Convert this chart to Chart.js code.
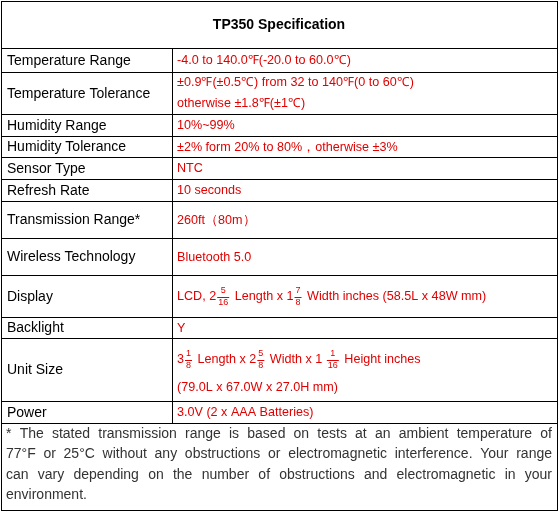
<!DOCTYPE html>
<html>
<head>
<meta charset="utf-8">
<script src="https://cdn.jsdelivr.net/npm/chart.js@4/dist/chart.umd.min.js"></script>
<style>
  body { margin: 0; background: #fff; }
  #wrap { width: 559px; height: 512px; }
</style>
</head>
<body>
<div id="wrap"><canvas id="spec"></canvas></div>
<script>
// Datos de la tabla
const title = 'TP350 Specification';
const labels = ['Temperature Range', 'Temperature Tolerance', 'Humidity Range', 'Humidity Tolerance',
  'Sensor Type', 'Refresh Rate', 'Transmission Range*', 'Wireless Technology', 'Display',
  'Backlight', 'Unit Size', 'Power'];
// cada valor: lista de líneas; cada línea: lista de trozos (texto o fracción)
const values = [
  [['-4.0 to 140.0℉(-20.0 to 60.0℃)']],
  [['±0.9℉(±0.5℃) from 32 to 140℉(0 to 60℃)'], ['otherwise ±1.8℉(±1℃)']],
  [['10%~99%']],
  [['±2% form 20% to 80%，otherwise ±3%']],
  [['NTC']],
  [['10 seconds']],
  [['260ft（80m）']],
  [['Bluetooth 5.0']],
  [['LCD, 2', { n: '5', d: '16' }, ' Length x 1', { n: '7', d: '8' }, ' Width inches (58.5L x 48W mm)']],
  [['Y']],
  [['3', { n: '1', d: '8' }, ' Length x 2', { n: '5', d: '8' }, ' Width x 1 ', { n: '1', d: '16' }, ' Height inches'],
   ['(79.0L x 67.0W x 27.0H mm)']],
  [['3.0V (2 x AAA Batteries)']]
];
const footnote = [
  '* The stated transmission range is based on tests at an ambient temperature of',
  '77°F or 25°C without any obstructions or electromagnetic interference. Your range',
  'can vary depending on the number of obstructions and electromagnetic in your',
  'environment.'
];

// Maquetación (límites de filas en unidades de la escala y)
const rowEdges = [1, 48, 72, 114, 136, 157, 179, 201, 238, 275, 317, 338, 401, 423, 510];
const lineOffsets = { 1: [10, 31], 10: [21, 49] };
const colX = [1, 172, 557];

const tablePlugin = {
  id: 'tabla',
  afterDraw(chart) {
    const { ctx, scales } = chart;
    const X = v => scales.x.getPixelForValue(v);
    const Y = v => scales.y.getPixelForValue(v);
    ctx.save();
    ctx.strokeStyle = '#000';
    ctx.lineWidth = 1;
    // borde exterior
    ctx.strokeRect(X(colX[0]) + 0.5, Y(rowEdges[0]) + 0.5, X(colX[2]) - X(colX[0]), Y(rowEdges[rowEdges.length - 1]) - Y(rowEdges[0]));
    rowEdges.slice(1, -1).forEach(e => {
      ctx.beginPath();
      ctx.moveTo(X(colX[0]), Math.round(Y(e)) + 0.5);
      ctx.lineTo(X(colX[2]), Math.round(Y(e)) + 0.5);
      ctx.stroke();
    });
    ctx.beginPath();
    ctx.moveTo(Math.round(X(colX[1])) + 0.5, Y(rowEdges[1]));
    ctx.lineTo(Math.round(X(colX[1])) + 0.5, Y(rowEdges[rowEdges.length - 2]));
    ctx.stroke();

    // título
    ctx.fillStyle = '#000';
    ctx.font = 'bold 14px "Liberation Sans", Arial';
    ctx.textAlign = 'center';
    ctx.textBaseline = 'middle';
    ctx.fillText(title, X((colX[0] + colX[2]) / 2), Y((rowEdges[0] + rowEdges[1]) / 2) + 1);

    ctx.textAlign = 'left';
    labels.forEach((lab, i) => {
      const top = rowEdges[i + 1], bot = rowEdges[i + 2];
      ctx.fillStyle = '#000';
      ctx.font = '14px "Liberation Sans", Arial';
      ctx.fillText(lab, X(colX[0]) + 6, Y((top + bot) / 2) + 1);
      const lines = values[i];
      const offs = lineOffsets[i] || [(bot - top) / 2];
      lines.forEach((parts, li) => {
        let x = X(colX[1]) + 5;
        const y = Y(top + offs[li]) + 1;
        ctx.fillStyle = '#e00000';
        parts.forEach(p => {
          if (typeof p === 'string') {
            ctx.font = '12.6px "Liberation Sans", Arial';
            ctx.fillText(p, x, y);
            x += ctx.measureText(p).width;
          } else {
            ctx.font = '9px "Liberation Sans", Arial';
            const w = Math.max(ctx.measureText(p.n).width, ctx.measureText(p.d).width) + 2;
            ctx.textAlign = 'center';
            ctx.fillText(p.n, x + 1 + w / 2, y - 6);
            ctx.fillText(p.d, x + 1 + w / 2, y + 6);
            ctx.fillRect(x + 1, y, w, 1);
            ctx.textAlign = 'left';
            x += w + 3;
          }
        });
      });
    });

    // nota al pie justificada
    ctx.fillStyle = '#333';
    ctx.font = '14px "Liberation Sans", Arial';
    const fx0 = X(colX[0]) + 5, fx1 = X(colX[2]) - 5;
    const fTop = rowEdges[rowEdges.length - 2];
    footnote.forEach((line, i) => {
      const y = Y(fTop + 11 + i * 20.5);
      const words = line.split(' ');
      if (i === footnote.length - 1) { ctx.fillText(line, fx0, y); return; }
      const total = words.reduce((s, w) => s + ctx.measureText(w).width, 0);
      const gap = (fx1 - fx0 - total) / (words.length - 1);
      let x = fx0;
      words.forEach(w => { ctx.fillText(w, x, y); x += ctx.measureText(w).width + gap; });
    });
    ctx.restore();
  }
};

new Chart(document.getElementById('spec').getContext('2d'), {
  type: 'scatter',
  data: { datasets: [{ data: [] }] },
  options: {
    responsive: true,
    maintainAspectRatio: false,
    animation: false,
    layout: { padding: 0 },
    plugins: { legend: { display: false }, tooltip: { enabled: false } },
    scales: {
      x: { type: 'linear', min: 0, max: 559, display: false },
      y: { type: 'linear', min: 0, max: 512, reverse: true, display: false }
    }
  },
  plugins: [tablePlugin]
});
</script>
</body>
</html>
